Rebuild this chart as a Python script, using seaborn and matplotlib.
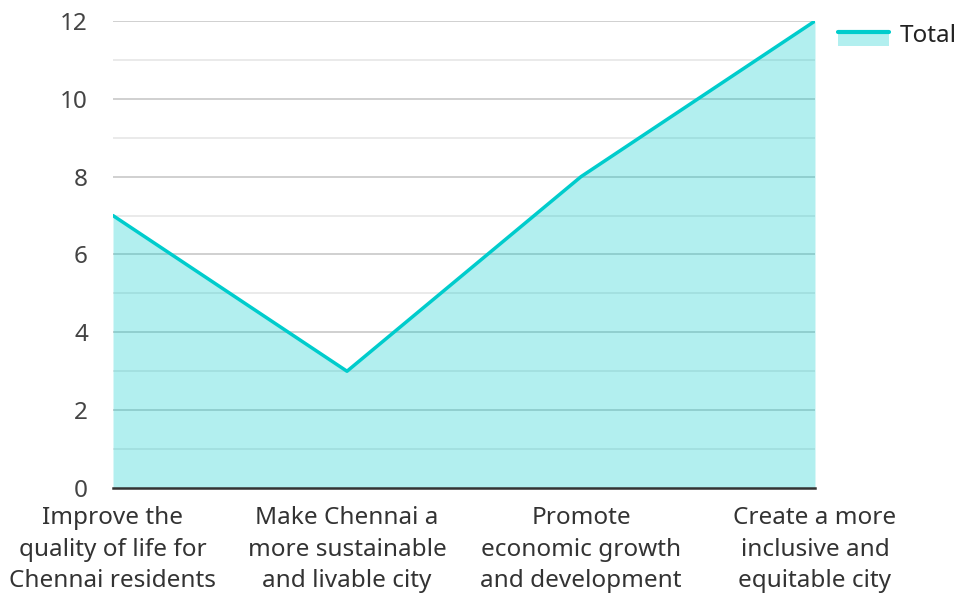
import matplotlib.pyplot as plt
import pandas as pd
import seaborn as sns
from matplotlib.legend_handler import HandlerBase
from matplotlib.lines import Line2D
from matplotlib.patches import Rectangle

# chart data
categories = [
    "Improve the\nquality of life for\nChennai residents",
    "Make Chennai a\nmore sustainable\nand livable city",
    "Promote\neconomic growth\nand development",
    "Create a more\ninclusive and\nequitable city",
]
totals = [7, 3, 8, 12]
y_ticks = [0, 2, 4, 6, 8, 10, 12]

line_color = "#00cccc"
fill_alpha = 0.3

df = pd.DataFrame({"pos": range(len(categories)), "Total": totals})

sns.set_style("white")
plt.rcParams["font.family"] = ["Noto Sans", "DejaVu Sans"]

fig = plt.figure(figsize=(9.56, 5.94), dpi=100)
ax = fig.add_axes([0.1182, 0.1785, 0.7343, 0.7861])

# gridlines: major every 2, minor every 1
for v in range(1, 13, 2):
    ax.axhline(v, color="#e6e6e6", lw=1.2, zorder=0)
for v in y_ticks[1:]:
    ax.axhline(v, color="#c8c8c8", lw=1.2, zorder=0)

ax.fill_between(df["pos"], df["Total"], color=line_color, alpha=fill_alpha, lw=0, zorder=1)
sns.lineplot(data=df, x="pos", y="Total", color=line_color, lw=2.5, ax=ax, zorder=2)

ax.set_xlim(0, 3)
ax.set_ylim(0, 12)
ax.set_xticks(df["pos"])
ax.set_xticklabels(categories, fontsize=17.5, color="#333333", linespacing=1.42)
ax.set_yticks(y_ticks)
ax.set_yticklabels([str(t) for t in y_ticks], fontsize=17.5, color="#444444")
ax.tick_params(axis="y", length=0, pad=18)
ax.tick_params(axis="x", length=0, pad=13)
ax.set_xlabel("")
ax.set_ylabel("")
for side in ["top", "right", "left"]:
    ax.spines[side].set_visible(False)
ax.spines["bottom"].set_color("#333333")
ax.spines["bottom"].set_linewidth(1.8)
ax.spines["bottom"].set_zorder(3)


class AreaHandler(HandlerBase):
    # line on top of a filled box, like the area legend key
    def create_artists(self, legend, orig, xd, yd, w, h, fs, trans):
        rect = Rectangle((-xd, -yd - 0.2 * h), w, h * 0.85, facecolor=line_color,
                         alpha=fill_alpha, edgecolor="none", transform=trans)
        line = Line2D([-xd, -xd + w], [-yd + 0.6 * h, -yd + 0.6 * h],
                      color=line_color, lw=3, transform=trans)
        return [rect, line]


key = Rectangle((0, 0), 1, 1)
ax.legend([key], ["Total"], handler_map={Rectangle: AreaHandler()},
          loc="upper left", bbox_to_anchor=(1.033, 0.993), frameon=False,
          fontsize=17.5, handlelength=2.1, handletextpad=0.42,
          labelcolor="#222222", borderaxespad=0, borderpad=0)

fig.savefig("out.png", dpi=100)
